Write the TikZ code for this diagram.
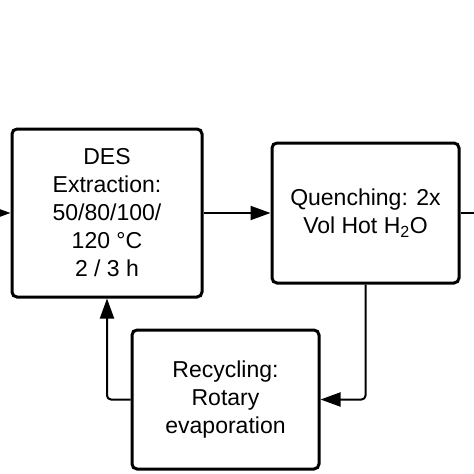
\documentclass[tikz,border=0pt]{standalone}
\usepackage{fontspec}
\setmainfont{Liberation Sans}
\usetikzlibrary{arrows.meta}
\tikzset{
  stage/.style={draw, line width=3pt, rounded corners=5pt, align=center,
    font=\fontsize{23}{28}\selectfont, inner sep=0pt},
  flow/.style={line width=2pt, -{Triangle[length=20pt,width=14pt]}}
}
\begin{document}
\begin{tikzpicture}[x=1pt,y=-1pt]
\useasboundingbox (0,0) rectangle (474,474);

\node[stage, minimum width=190pt, minimum height=168pt] (des) at (107,213)
  {DES\\Extraction:\\50/80/100/\\120 °C\\2 / 3 h};
\node[stage, minimum width=187pt, minimum height=140pt] (quench) at (365.5,213)
  {Quenching: 2x\\Vol Hot H\textsubscript{2}O};
\node[stage, minimum width=187pt, minimum height=139pt] (recyc) at (225.5,399.5)
  {Recycling:\\Rotary\\evaporation};

\coordinate (in) at (-2,213);
\coordinate (out) at (476,213);

\draw[flow] (in) -- (des.west);
\draw[flow] (des.east) -- (quench.west);
\draw[line width=2pt] (quench.east) -- (out);
\draw[flow, rounded corners=4pt] (quench.south) |- (recyc.east);
\draw[flow, rounded corners=4pt] (recyc.west) -| (des.south);

\end{tikzpicture}
\end{document}
